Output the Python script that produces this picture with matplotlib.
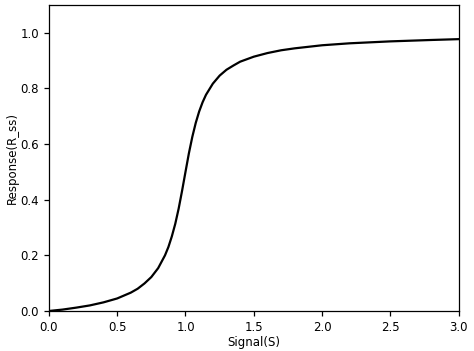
import matplotlib
matplotlib.use("Agg")
import matplotlib.pyplot as plt

# signal values and the steady-state response
signal = [0.0, 0.1, 0.2, 0.3, 0.4, 0.5, 0.6, 0.65, 0.7, 0.75, 0.8, 0.85, 0.875,
          0.9, 0.925, 0.95, 0.975, 1.0, 1.025, 1.05, 1.075, 1.1, 1.125, 1.15,
          1.2, 1.25, 1.3, 1.35, 1.4, 1.5, 1.6, 1.7, 1.8, 2.0, 2.2, 2.5, 2.8, 3.0]
response = [0.0, 0.005, 0.012, 0.020, 0.031, 0.045, 0.066, 0.080, 0.099, 0.122,
            0.154, 0.200, 0.230, 0.268, 0.313, 0.368, 0.432, 0.500, 0.567, 0.626,
            0.676, 0.717, 0.750, 0.777, 0.817, 0.846, 0.867, 0.882, 0.896, 0.914,
            0.927, 0.937, 0.944, 0.955, 0.962, 0.969, 0.974, 0.977]

plt.rcParams['font.size'] = 8.5
fig = plt.figure(figsize=(4.74, 3.51), dpi=100)
ax = fig.add_subplot(111)
fig.subplots_adjust(left=0.103, right=0.968, bottom=0.114, top=0.986)

ax.plot(signal, response, color='black', linewidth=1.6)
for s in ax.spines.values():
    s.set_linewidth(0.9)
ax.tick_params(width=0.9, length=3.5)
ax.set_xlim(0, 3.0)
ax.set_ylim(0, 1.1)
ax.set_xlabel("Signal(S)", labelpad=1.5)
ax.set_ylabel("Response(R_ss)", labelpad=1.5)

fig.savefig("out.png", dpi=100)
